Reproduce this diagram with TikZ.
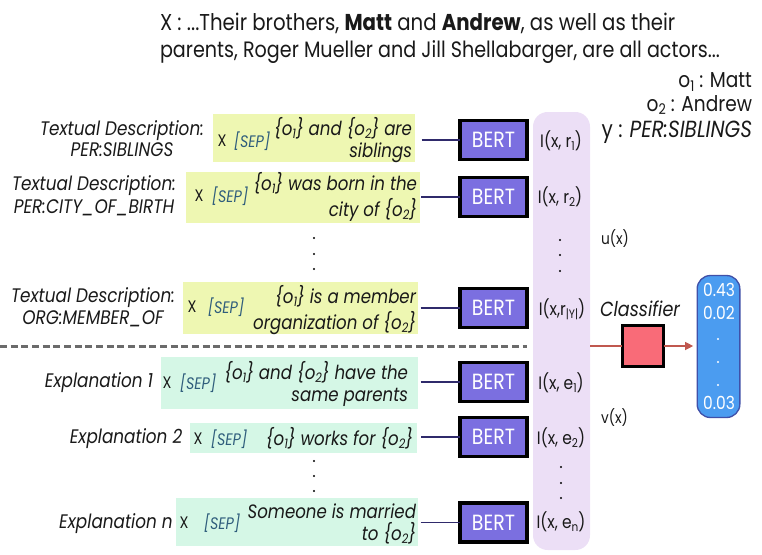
\documentclass[tikz,border=0pt]{standalone}
\usepackage{graphicx}
\usepackage{fontspec}
\setmainfont{Poppins}[FakeStretch=0.86]
\usetikzlibrary{arrows.meta}
\definecolor{yel}{HTML}{EEF7B2}
\definecolor{grn}{HTML}{D5F7E6}
\definecolor{pan}{HTML}{ECDFF6}
\definecolor{brt}{HTML}{7B6FE0}
\definecolor{cls}{HTML}{F96B78}
\definecolor{outb}{HTML}{4B9CF0}
\definecolor{outd}{HTML}{4050A8}
\definecolor{sep}{HTML}{2F5D7C}
\definecolor{con}{HTML}{2F2A6B}
\definecolor{arr}{HTML}{C0584F}
\newcommand\sbs[1]{\raisebox{-0.3ex}{\scalebox{0.68}{#1}}}
\newcommand\fs[1]{\fontsize{#1}{#1}\selectfont}
\tikzset{
 x=0.75pt,y=-0.75pt,
 txt/.style={inner sep=0pt,outer sep=0pt,text=black!90,font=\fs{13.5}},
 big/.style={txt,font=\fs{16.7}},
 side/.style={txt,font=\fs{16.2}},
 lab/.style={txt,font=\fs{14.7}\itshape,align=center},
 desc/.style={txt,font=\fs{14.5}\itshape,align=right,anchor=east},
 xt/.style={txt,font=\fs{12.5}},
 septx/.style={txt,font=\fs{12.5}\itshape,text=sep},
 ybox/.style={fill=yel,inner sep=0pt,outer sep=0pt},
 gbox/.style={fill=grn,inner sep=0pt,outer sep=0pt},
 bertbox/.style={draw=black,line width=2.6pt,fill=brt,text=white,font=\fs{16.5},minimum width=50.5pt,minimum height=29pt,inner sep=0pt,outer sep=0pt},
 conn/.style={draw=con,line width=0.9pt},
 rep/.style={txt,font=\fs{13.5}},
 vec/.style={txt,font=\fs{12}},
 dot/.style={circle,fill=black,minimum size=1.8pt,inner sep=0pt,outer sep=0pt},
 outval/.style={txt,font=\fs{13.5},text=white}
}
\begin{document}
\begin{tikzpicture}
\useasboundingbox (0,0) rectangle (762,554);
% panel
\node[fill=pan,rounded corners=11pt,minimum width=42.75pt,minimum height=328.5pt,inner sep=0pt,outer sep=0pt] (panel) at (561.5,331) {};
% header
\node[big,anchor=west,font=\fs{17.2}] (xa) at (160,23) {X : ...Their brothers, \textbf{Matt} and \textbf{Andrew}, as well as their};
\node[big,anchor=west] (xb) at (160,52) {parents, Roger Mueller and Jill Shellabarger, are all actors...};
\node[side,anchor=east] (o1) at (752,82) {o\sbs{1} : Matt};
\node[side,anchor=east] (o2) at (752,105) {o\sbs{2} : Andrew};
\node[side,anchor=east,font=\fs{17.5}] (yy) at (752,132) {y : \textit{PER:SIBLINGS}};
% text boxes
\node[ybox,minimum width=151.5pt,minimum height=35.5pt] (t1) at (314,138) {};
\node[ybox,minimum width=175.5pt,minimum height=38.25pt] (t2) at (303,197.5) {};
\node[ybox,minimum width=176.25pt,minimum height=39pt] (t3) at (300.5,308) {};
\node[gbox,minimum width=192.75pt,minimum height=39pt] (t4) at (289.5,383) {};
\node[gbox,minimum width=170.25pt,minimum height=22.5pt] (t5) at (303.5,438) {};
\node[gbox,minimum width=181.5pt,minimum height=36pt] (t6) at (297,522) {};
% labels
\node[lab] (l1) at (122,138.5) {Textual Description:\\[1pt]PER:SIBLINGS};
\node[lab] (l2) at (94,196) {Textual Description:\\[2.5pt]PER:CITY\_OF\_BIRTH};
\node[lab] (l3) at (93,307.5) {Textual Description:\\[2pt]ORG:MEMBER\_OF};
\node[lab] (l4) at (99,383) {Explanation 1};
\node[lab] (l5) at (126,439) {Explanation 2};
\node[lab] (l6) at (116,524) {Explanation n};
% X SEP
\node[xt] (x1) at (222,141) {X}; \node[septx] (s1) at (252,141) {[SEP]};
\node[xt] (x2) at (199,196) {X}; \node[septx] (s2) at (230,196) {[SEP]};
\node[xt] (x3) at (192,307) {X}; \node[septx] (s3) at (226,307) {[SEP]};
\node[xt] (x4) at (167,383) {X}; \node[septx] (s4) at (198,383) {[SEP]};
\node[xt] (x5) at (198,439) {X}; \node[septx] (s5) at (229,439) {[SEP]};
\node[xt] (x6) at (184,523) {X}; \node[septx] (s6) at (222,523) {[SEP]};
% descriptions
\node[desc] (d1) at (412,140) {\{o\sbs{1}\} and \{o\sbs{2}\} are\\[2pt]siblings};
\node[desc] (d2) at (417,197) {\{o\sbs{1}\} was born in the\\[2pt]city of \{o\sbs{2}\}};
\node[desc] (d3) at (416,310) {\{o\sbs{1}\} is a member\\[2pt]organization of \{o\sbs{2}\}};
\node[desc] (d4) at (408,384) {\{o\sbs{1}\} and \{o\sbs{2}\} have the\\[2pt]same parents};
\node[desc] (d5) at (413,438) {\{o\sbs{1}\} works for \{o\sbs{2}\}};
\node[desc] (d6) at (416,524) {Someone is married\\[2pt]to \{o\sbs{2}\}};
% BERT
\node[bertbox] (b1) at (493.5,140) {BERT};
\node[bertbox] (b2) at (493.5,197) {BERT};
\node[bertbox] (b3) at (493.5,308) {BERT};
\node[bertbox] (b4) at (493.5,382) {BERT};
\node[bertbox] (b5) at (493.5,437) {BERT};
\node[bertbox] (b6) at (493.5,522.5) {BERT};
% connectors
\draw[conn] ([xshift=5pt]t1.east |- b1.west) -- (b1.west);
\draw[conn] ([xshift=1pt]t2.east |- b2.west) -- (b2.west);
\draw[conn] ([xshift=2pt]t3.east |- b3.west) -- (b3.west);
\draw[conn] ([xshift=2pt]t4.east |- b4.west) -- (b4.west);
\draw[conn] ([xshift=3pt]t5.east |- b5.west) -- (b5.west);
\draw[conn] ([xshift=2pt]t6.east |- b6.west) -- (b6.west);
% repr labels
\node[rep] (r1) at (561,141) {I(x, r\sbs{1})};
\node[rep] (r2) at (560,197) {I(x, r\sbs{2})};
\node[rep] (r3) at (562,309) {I(x,r\sbs{|Y|})};
\node[rep] (r4) at (561,383) {I(x, e\sbs{1})};
\node[rep] (r5) at (561,438) {I(x, e\sbs{2})};
\node[rep] (r6) at (561,522) {I(x, e\sbs{n})};
\node[vec] (ux) at (615,239) {u(x)};
\node[vec] (vx) at (614.5,418) {v(x)};
% dots
\foreach \n/\x/\y in {a1/314/238,a2/314/254,a3/314/269,b1/314/461,b2/314/476,b3/314/491,c1/560/240,c2/560/255,c3/560/271,d1/561/467,d2/561/483,d3/561/498}
  \node[dot] (dot\n) at (\x,\y) {};
% dashed
\coordinate (dl) at (0,346.5);
\draw[draw=black!58,line width=1.7pt,dash pattern=on 5.2pt off 2.8pt] (dl) -- (dl -| b3.east);
% classifier
\node[txt,font=\fs{15.3}\itshape] (cl) at (640,309) {Classifier};
\node[draw=black,line width=2.6pt,fill=cls,minimum width=31pt,minimum height=31pt,inner sep=0pt,outer sep=0pt] (cb) at (643,346) {};
\node[draw=outd,line width=1pt,fill=outb,rounded corners=10pt,minimum width=32pt,minimum height=106.5pt,inner sep=0pt,outer sep=0pt] (ob) at (718.5,346.5) {};
\draw[draw=arr,line width=0.9pt] (panel.east |- cb.west) -- (cb.west);
\draw[draw=arr,line width=0.9pt,-{Triangle[length=6pt,width=6pt]}] (cb.east) -- ([xshift=-3pt]ob.west |- cb.east);
\node[outval] (v1) at (719,290) {0.43};
\node[outval] (v2) at (719,313) {0.02};
\node[dot,fill=white] (w1) at (718,339) {};
\node[dot,fill=white] (w2) at (718,362) {};
\node[dot,fill=white] (w3) at (718,385) {};
\node[outval] (v3) at (719,403) {0.03};
\end{tikzpicture}
\end{document}
